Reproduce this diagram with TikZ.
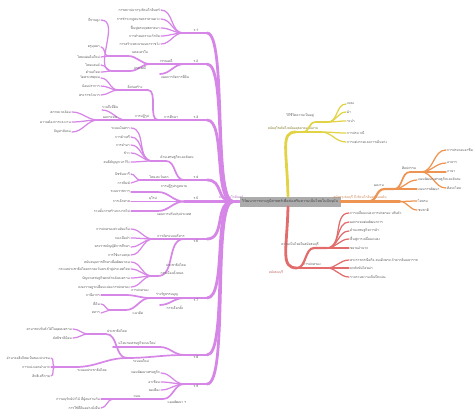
\documentclass[tikz,border=0pt]{standalone}
\usepackage{fontspec}
\newfontfamily\thaifont[Script=Thai]{Loma}
\newcommand\lfont{\thaifont\fontsize{3.3}{3.6}\selectfont}
\newcommand\mfont{\thaifont\fontsize{3.7}{4}\selectfont}
\definecolor{pp}{RGB}{214,134,230}
\definecolor{yy}{RGB}{226,210,70}
\definecolor{oo}{RGB}{238,148,82}
\definecolor{rr}{RGB}{226,108,108}
\definecolor{tx}{RGB}{80,80,80}
\definecolor{cbox}{RGB}{172,172,172}
\tikzset{
 lf/.style={font=\lfont,text=tx,inner xsep=1pt,inner ysep=0.3pt},
 leafL/.style={lf,anchor=east},
 leafR/.style={lf,anchor=west},
 up/.style={lf,anchor=south},
 dn/.style={lf,anchor=north},
 b1/.style={line width=2.8pt,line cap=round},
 b2/.style={line width=2.2pt,line cap=round},
 b3/.style={line width=1.7pt,line cap=round},
 b4/.style={line width=1.25pt,line cap=round},
 hz/.style={out=0,in=180},
}
\begin{document}
\begin{tikzpicture}[x=1pt,y=-1pt]
\useasboundingbox (0,0) rectangle (474,420);
\node[fill=cbox,text=black!75,font=\mfont,minimum width=101pt,minimum height=10pt,inner sep=0.5pt] (c) at (290,201.5) {วิวัฒนาการทางภูมิศาสตร์เพื่อส่งเสริมความเป็นไทยในปัจจุบัน};

% ================= PURPLE =================
\coordinate (hm) at (233,201.5);
\draw[pp,b1] (c.west) -- (hm);
\node[lf,text=pp!80!black,anchor=south] (pm) at (231,199.5) {สมัยรัตนโกสินทร์};

% R1
\coordinate (h1) at (183,33); \coordinate (r1e) at (207,33);
\draw[pp,b2] (h1) -- (r1e);
\draw[pp,b1] (r1e) .. controls (227,33) and (213,201.5) .. (hm);
\node[up] (r1) at (196,32) {ร.1};
\node[leafL] (l1a) at (161,10) {การสถาปนากรุงรัตนโกสินทร์};
\node[leafL] (l1b) at (161,19) {การชำระกฎหมายตราสามดวง};
\node[leafL] (l1c) at (161,28) {ฟื้นฟูพระพุทธศาสนา};
\node[leafL] (l1d) at (161,36) {การทำสงครามเก้าทัพ};
\node[leafL] (l1e) at (161,44) {การสร้างพระบรมมหาราชวัง};
\foreach \n in {l1a,l1b,l1c,l1d,l1e} \draw[pp,b4] (\n.east) to[hz] (h1);

% R2
\coordinate (h2) at (184,64); \coordinate (r2e) at (207,64);
\draw[pp,b2] (h2) -- (r2e);
\draw[pp,b1] (r2e) .. controls (227,64) and (213,201.5) .. (hm);
\node[up] (r2) at (196,63) {ร.2};
\coordinate (a2) at (150,64);
\draw[pp,b3] (a2) -- (h2);
\node[up] (a2t) at (166,63) {วรรณคดี};
\coordinate (b2h) at (108,56); \coordinate (b2m) at (128,56);
\draw[pp,b3] (b2h) -- (b2m) to[hz] (a2);
\node[up] (b2t) at (140,54) {บทละครใน};
\coordinate (c2h) at (112,71); \coordinate (c2m) at (130,71);
\draw[pp,b3] (c2h) -- (c2m) to[hz] (a2);
\node[up] (c2t) at (140,70) {ประเพณี};
\node[leafL] (l2a) at (101,47) {ครูบุษยา};
\node[leafL] (l2b) at (101,57) {ไทยแผ่นดินใหม่};
\foreach \n in {l2a,l2b} \draw[pp,b4] (\n.east) to[hz] (b2h);
\node[leafL] (l2c) at (101,20) {ที่ราบสูง};
\node[leafL] (l2d) at (101,65) {ไทยแลนด์};
\node[leafL] (l2e) at (101,72) {ตำบลไทย};
\foreach \n in {l2c,l2d,l2e} \draw[pp,b4] (\n.east) to[hz] (c2h);
\coordinate (d2) at (160,74);
\draw[pp,b3] (d2) to[hz] (h2);
\node[dn] (d2t) at (175,75) {แผนการจัดการที่ดิน};

% R3
\coordinate (h3) at (184,120); \coordinate (r3e) at (207,120);
\draw[pp,b2] (h3) -- (r3e);
\draw[pp,b1] (r3e) .. controls (226,120) and (213,201.5) .. (hm);
\node[up] (r3) at (196,119) {ร.3};
\coordinate (f3) at (158,120);
\draw[pp,b3] (f3) -- (h3);
\node[up] (f3t) at (171,119) {การศึกษา};
\coordinate (g3) at (126,120);
\draw[pp,b3] (g3) -- (f3);
\node[up] (g3t) at (142,119) {การปฏิรูป};
\coordinate (e3) at (118,90); \coordinate (e3m) at (148,90);
\draw[pp,b3] (e3) -- (e3m) .. controls (158,90) and (148,120) .. (f3);
\node[up] (e3t) at (135,89) {สิ่งก่อสร้าง};
\node[leafL] (l3a) at (101,78) {วัดพระเชตุพน};
\node[leafL] (l3b) at (101,86) {ป้อมปราการ};
\node[leafL] (l3c) at (101,95) {พระราชวังบวร};
\foreach \n in {l3a,l3b,l3c} \draw[pp,b4] (\n.east) to[hz] (e3);
\coordinate (i3) at (102,110);
\draw[pp,b4] (i3) to[hz] (g3);
\node[lf,anchor=south west] (i3t) at (101,109) {รวมถึงที่ดิน};
\coordinate (k3) at (98,120);
\draw[pp,b3] (k3) -- (g3);
\node[up] (k3t) at (110,119) {ผลกระทบ};
\node[leafL] (l3d) at (72,112) {สภาพแวดล้อม};
\node[leafL] (l3e) at (72,122) {ความต้องการแรงงาน};
\node[leafL] (l3f) at (72,132) {ปัญหาสังคม};
\foreach \n in {l3d,l3e,l3f} \draw[pp,b4] (\n.east) to[hz] (k3);

% R4
\coordinate (h4) at (184,180); \coordinate (r4e) at (207,180);
\draw[pp,b2] (h4) -- (r4e);
\draw[pp,b1] (r4e) .. controls (224,180) and (215,201.5) .. (hm);
\node[up] (r4) at (196,179) {ร.4};
\coordinate (j4) at (152,161); \coordinate (j4m) at (166,161);
\draw[pp,b3] (j4) -- (j4m) to[hz] (h4);
\node[up] (j4t) at (177,160) {ด้านเศรษฐกิจและสังคม};
\node[leafL] (l4a) at (131,128) {ระบบเงินตรา};
\node[leafL] (l4b) at (131,137) {การค้าเสรี};
\node[leafL] (l4c) at (131,145) {การทำนา};
\node[leafL] (l4d) at (131,153) {ข้าว};
\node[leafL] (l4e) at (131,162) {สนธิสัญญาเบาว์ริง};
\foreach \n in {l4a,l4b,l4c,l4d,l4e} \draw[pp,b4] (\n.east) to[hz] (j4);
\coordinate (i4) at (140,180);
\draw[pp,b3] (i4) -- (h4);
\node[up] (i4t) at (159,179) {ไทย-ตะวันตก};
\node[leafL] (l4f) at (131,174) {มิชชันนารี};
\node[leafL] (l4g) at (131,183) {การพิมพ์};
\foreach \n in {l4f,l4g} \draw[pp,b4] (\n.east) to[hz] (i4);

% R5
\coordinate (h5) at (184,201.5);
\draw[pp,b2] (h5) -- (hm);
\node[up] (r5) at (196,200.5) {ร.5};
\coordinate (k5) at (140,192); \coordinate (k5m) at (158,192);
\draw[pp,b3] (k5) -- (k5m) to[hz] (h5);
\node[up] (k5t) at (174,189) {การปฏิรูปกฎหมาย};
\coordinate (l5) at (140,201.5);
\draw[pp,b3] (l5) -- (h5);
\node[up] (l5t) at (153,200.5) {ยุโรป};
\coordinate (m5) at (140,211); \coordinate (m5m) at (158,211);
\draw[pp,b3] (m5) -- (m5m) to[hz] (h5);
\node[dn] (m5t) at (174,212) {แผนการปรับปรุงประเทศ};
\node[leafL] (l5a) at (131,192) {ระบบราชการ};
\draw[pp,b4] (l5a.east) to[hz] (k5);
\node[leafL] (l5b) at (131,201.5) {การเลิกทาส};
\draw[pp,b4] (l5b.east) to[hz] (l5);
\node[leafL] (l5c) at (131,211) {รวมทั้งการสร้างทางรถไฟ};
\draw[pp,b4] (l5c.east) to[hz] (m5);

% R6
\coordinate (h6) at (184,239); \coordinate (r6e) at (207,239);
\draw[pp,b2] (h6) -- (r6e);
\draw[pp,b1] (r6e) .. controls (226,239) and (214,201.5) .. (hm);
\node[dn] (r6) at (196,240) {ร.6};
\coordinate (n6) at (153,239);
\draw[pp,b3] (n6) -- (h6);
\node[up] (n6t) at (171,238) {การจัดระบบบริหาร};
\node[leafL] (l6a) at (131,229) {การปกครองส่วนท้องถิ่น};
\node[leafL] (l6b) at (131,238) {กองเสือป่า};
\node[leafL] (l6c) at (131,247) {พระราชบัญญัติการศึกษา};
\node[leafL] (l6d) at (131,255) {การใช้นามสกุล};
\foreach \n in {l6a,l6b,l6c,l6d} \draw[pp,b4] (\n.east) to[hz] (n6);
\coordinate (o6) at (152,276); \coordinate (o6m) at (158,276);
\draw[pp,b3] (o6) -- (o6m) to[hz] (h6);
\node[lf] (o6t) at (176,265) {ประชาธิปไตย};
\node[lf] (o6u) at (172,273) {การเมืองทั้งหมด};
\node[leafL] (l6e) at (131,262) {สนับสนุนการศึกษาเพื่อพัฒนาคน};
\node[leafL] (l6f) at (131,269) {กระแสประชาธิปไตยจากตะวันตกเข้าสู่ประเทศไทย};
\node[leafL] (l6g) at (131,278) {ปัญหาเศรษฐกิจตกต่ำหลังสงคราม};
\node[leafL] (l6h) at (131,287) {คณะราษฎรเปลี่ยนแปลงการปกครอง};
\foreach \n in {l6e,l6f,l6g,l6h} \draw[pp,b4] (\n.east) to[hz] (o6);

% R7
\coordinate (h7) at (184,298); \coordinate (r7e) at (207,298);
\draw[pp,b2] (h7) -- (r7e);
\draw[pp,b1] (r7e) .. controls (227,298) and (213,201.5) .. (hm);
\node[dn] (r7) at (196,299) {ร.7};
\coordinate (s7) at (150,298);
\draw[pp,b3] (s7) -- (h7);
\node[up] (s7t) at (167,297) {ร่างรัฐธรรมนูญ};
\coordinate (v7) at (160,305);
\draw[pp,b3] (v7) to[hz] (h7);
\node[dn] (v7t) at (175,306) {การเลือกตั้ง};
\coordinate (q7) at (110,295); \coordinate (q7m) at (126,295);
\draw[pp,b3] (q7) -- (q7m) to[hz] (s7);
\node[up] (q7t) at (140,292) {การปกครอง};
\coordinate (t7) at (110,310); \coordinate (t7m) at (126,310);
\draw[pp,b3] (t7) -- (t7m) to[hz] (s7);
\node[dn] (t7t) at (138,311) {แนวคิด};
\node[leafL] (l7a) at (101,295) {ภาษีอากร};
\draw[pp,b4] (l7a.east) to[hz] (q7);
\node[leafL] (l7b) at (101,304) {ที่ดิน};
\node[leafL] (l7c) at (101,313) {ทหาร};
\foreach \n in {l7b,l7c} \draw[pp,b4] (\n.east) to[hz] (t7);

% R8
\coordinate (h8) at (184,355); \coordinate (r8e) at (207,355);
\draw[pp,b2] (h8) -- (r8e);
\draw[pp,b1] (r8e) .. controls (228,355) and (212,201.5) .. (hm);
\node[dn] (r8) at (196,356) {ร.8};
\coordinate (x8) at (113,347); \coordinate (x8m) at (160,347);
\draw[pp,b3] (x8) -- (x8m) to[hz] (h8);
\node[up] (x8t) at (137,346) {นโยบายเศรษฐกิจแบบใหม่};
\coordinate (u8) at (127,358);
\draw[pp,b3] (u8) to[hz] (h8);
\node[dn] (u8t) at (141,359) {ระบอบใหม่};
\coordinate (v8) at (88,334); \coordinate (v8m) at (106,334);
\draw[pp,b3] (v8) -- (v8m) to[hz] (u8);
\node[up] (v8t) at (117,333) {ประชาธิปไตย};
\node[leafL] (l8a) at (73,329) {สามารถปรับตัวได้ในยุคสงคราม};
\node[leafL] (l8b) at (73,338) {ลัทธิชาตินิยม};
\foreach \n in {l8a,l8b} \draw[pp,b4] (\n.east) to[hz] (v8);
\coordinate (w8) at (55,367); \coordinate (w8m) at (76,367);
\draw[pp,b3] (w8) -- (w8m) to[hz] (u8);
\node[dn] (w8t) at (92,368) {ระบอบประชาธิปไตย};
\node[leafL] (l8c) at (51,358) {อำนาจอธิปไตยเป็นของปวงชน};
\node[leafL] (l8d) at (51,367) {การแบ่งแยกอำนาจ};
\node[leafL] (l8e) at (51,376) {สิทธิเสรีภาพ};
\foreach \n in {l8c,l8d,l8e} \draw[pp,b4] (\n.east) to[hz] (w8);

% R9
\coordinate (h9) at (184,384); \coordinate (r9e) at (207,384);
\draw[pp,b2] (h9) -- (r9e);
\draw[pp,b1] (r9e) .. controls (229,384) and (212,201.5) .. (hm);
\node[dn] (r9) at (196,385) {ร.9};
\node[leafL] (l9a) at (161,373) {แผนพัฒนาเศรษฐกิจ};
\node[leafL] (l9b) at (161,382) {อาเซียน};
\node[leafL] (l9c) at (161,390) {พอเพียง};
\foreach \n in {l9a,l9b,l9c} \draw[pp,b4] (\n.east) to[hz] (h9);
\coordinate (y9) at (113,399); \coordinate (y9m) at (163,399);
\draw[pp,b3] (y9) -- (y9m) to[hz] (h9);
\node[dn] (y9t) at (177,400) {แผนพัฒนา ฯ};
\node[up] (y9u) at (137,398) {ถนน};
\node[leafL] (l9d) at (101,399) {การอนุรักษ์ป่าไม้ ที่ผู้คนร่วมกัน};
\node[leafL] (l9e) at (101,408) {การใช้ที่ดินอย่างยั่งยืน};
\foreach \n in {l9d,l9e} \draw[pp,b4] (\n.east) to[hz] (y9);

% ================= YELLOW =================
\coordinate (y0s) at (296,132); \coordinate (y0h) at (321,132);
\draw[yy,b1] ([xshift=-2pt]c.north) .. controls (287,150) and (280,132) .. (y0s);
\draw[yy,b2] (y0s) -- (y0h);
\node[up,text=yy!55!black] (y0t) at (293,130.5) {สมัยสุโขทัยถึงสมัยอยุธยาตอนปลาย};
\node[leafR] (ya) at (346,133) {การประเวณี};
\node[leafR] (yb) at (346,142) {การแต่งกายและการเดินทาง};
\foreach \n in {ya,yb} \draw[yy,b4] (y0h) to[hz] (\n.west);
\coordinate (y1s) at (316,122); \coordinate (y1h) at (328,122);
\draw[yy,b3] (303,132) .. controls (310,132) and (308,122) .. (y1s) -- (y1h);
\node[up] (y1t) at (300,117.5) {วิถีชีวิตความเป็นอยู่};
\node[leafR] (yc) at (346,104) {เพลง};
\node[leafR] (yd) at (346,112) {ผ้า};
\node[leafR] (ye) at (346,121) {ระบำ};
\foreach \n in {yc,yd,ye} \draw[yy,b4] (y1h) to[hz] (\n.west);

% ================= ORANGE =================
\coordinate (o0) at (368,201.5); \coordinate (ob) at (400,201.5);
\draw[oo,b1] (c.east) -- (ob);
\node[up,text=oo!85!black] (o0t) at (360,199.5) {สมัยกรุงธนบุรี ถึงรัตนโกสินทร์ตอนต้น};
\coordinate (o1s) at (385,189); \coordinate (o1) at (394,189);
\draw[oo,b2] (o0) .. controls (378,201.5) and (375,189) .. (o1s) -- (o1);
\node[up] (o1t) at (379,187.5) {ผลงาน};
\coordinate (o2s) at (410,172); \coordinate (o2) at (421,172);
\draw[oo,b3] (o1) .. controls (403,189) and (401,172) .. (o2s) -- (o2);
\node[up] (o2t) at (409,170.5) {ศิลปกรรม};
\node[leafR] (oa) at (446,150) {การประกอบอาชีพ};
\node[leafR] (ob1) at (446,163) {อาหาร};
\node[leafR] (oc) at (446,172) {ภาษา};
\node[leafR] (od) at (446,188) {ศิลปะไทย};
\foreach \n in {oa,ob1,oc,od} \draw[oo,b4] (o2) to[hz] (\n.west);
\node[leafR] (oe) at (417,180) {แผนพัฒนาเศรษฐกิจและสังคม};
\node[leafR] (of) at (417,189) {แผนการพัฒนา};
\foreach \n in {oe,of} \draw[oo,b4] (o1) to[hz] (\n.west);
\node[leafR] (og) at (417,201) {ไทยรบ};
\node[leafR] (oh) at (417,210) {ชนชาติ};
\foreach \n in {og,oh} \draw[oo,b4] (ob) to[hz] (\n.west);

% ================= RED =================
\coordinate (r0) at (297,268);
\draw[rr,b1] ([xshift=-2pt]c.south) .. controls (287,250) and (280,268) .. (r0);
\node[dn,text=rr!85!black] (r0t) at (276,270) {สมัยธนบุรี};
\coordinate (rh1) at (327,268);
\draw[rr,b2] (r0) -- (rh1);
\node[up] (rh1t) at (312,266.5) {การปกครอง};
\coordinate (rh2s) at (314,248); \coordinate (rh2) at (327,248);
\draw[rr,b2] (r0) .. controls (306,268) and (305,248) .. (rh2s) -- (rh2);
\node[up] (rh2t) at (300,246.5) {ความเป็นไทยในสมัยธนบุรี};
\node[leafR] (ra) at (349,213) {การเปลี่ยนแปลงการปกครอง ปรับตัว};
\node[leafR] (rb) at (349,222) {ผลกระทบต่อพัฒนาการ};
\node[leafR] (rc) at (349,231) {ด้านเศรษฐกิจการค้า};
\node[leafR] (rd) at (349,239) {ฟื้นฟูการเปลี่ยนแปลง};
\node[leafR] (re) at (349,248) {ขยายอำนาจ};
\foreach \n in {ra,rb,rc,rd,re} \draw[rr,b4] (rh2) to[hz] (\n.west);
\node[leafR] (rf) at (349,260) {พระราชกรณียกิจ สมเด็จพระเจ้าตากสินมหาราช};
\node[leafR] (rg) at (349,268) {ยกทัพขับไล่พม่า};
\node[leafR] (rh) at (349,277) {รวบรวมความเป็นปึกแผ่น};
\foreach \n in {rf,rg,rh} \draw[rr,b4] (rh1) to[hz] (\n.west);
\end{tikzpicture}
\end{document}
